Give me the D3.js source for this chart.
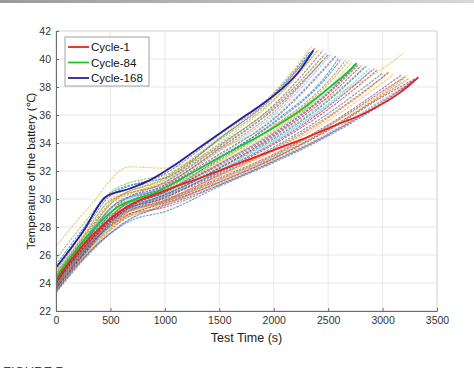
<!DOCTYPE html>
<html><head><meta charset="utf-8">
<script src="https://cdn.jsdelivr.net/npm/d3@7"></script>
<style>body{margin:0;background:#fff;}svg{display:block;font-family:"Liberation Sans",Arial,sans-serif;}</style>
</head><body>
<script>
// ---------- data ----------
const xTicks = [0,500,1000,1500,2000,2500,3000,3500];
const yTicks = [22,24,26,28,30,32,34,36,38,40,42];
const legendNames = ["Cycle-1","Cycle-84","Cycle-168"];
const legendColors = ["#e5231c","#1ec22a","#2b1d9e"];
const cycle1 = [[0,24.2],[250,26.7],[600,29.2],[1000,30.6],[1323,31.5],[1629,32.4],[1935,33.3],[2241,34.2],[2548,35.2],[2854,36.2],[3160,37.6],[3329,38.7]];
const cycle84 = [[0,24.4],[250,27.0],[560,29.4],[772,30.1],[925,30.5],[1000,30.8],[1323,32.2],[1629,33.5],[1935,34.8],[2241,36.3],[2486,37.8],[2670,39.0],[2762,39.7]];
const cycle168 = [[0,25.1],[250,27.7],[455,30.15],[680,30.75],[864,31.35],[1075,32.35],[1231,33.2],[1506,34.7],[1721,35.85],[1935,37.0],[2088,37.95],[2241,39.2],[2364,40.6]];
const otherCycles = [
 [[0,24.9],[250,27.6],[480,30.1],[1000,31.8],[1500,34.6],[2000,37.5],[2330,40.5]],
 [[0,24.4],[250,27.0],[520,29.8],[1000,31.5],[1500,34.3],[2000,37.3],[2380,40.8]],
 [[0,24.1],[250,26.7],[550,29.7],[1000,31.3],[1500,34.0],[2000,37.0],[2420,40.7]],
 [[0,23.8],[250,26.3],[560,29.5],[1000,31.2],[1500,33.8],[2000,36.7],[2450,40.6]],
 [[0,24.6],[250,27.2],[520,29.9],[1000,31.4],[1500,33.9],[2000,36.6],[2480,40.4]],
 [[0,24.0],[250,26.6],[560,29.4],[1000,31.0],[1500,33.4],[2000,36.0],[2520,40.3]],
 [[0,23.6],[250,26.1],[580,29.3],[1000,30.9],[1500,33.2],[2000,35.7],[2570,40.2]],
 [[0,24.3],[250,26.9],[540,29.6],[1000,30.8],[1500,33.0],[2000,35.4],[2500,38.8],[2620,40.0]],
 [[0,23.9],[250,26.4],[570,29.2],[1000,30.7],[1500,32.8],[2000,35.2],[2500,38.4],[2660,39.9]],
 [[0,24.2],[250,26.8],[560,29.4],[1000,30.6],[1500,32.6],[2000,34.9],[2500,37.9],[2720,39.8]],
 [[0,23.7],[250,26.2],[590,29.1],[1000,30.5],[1500,32.4],[2000,34.6],[2500,37.5],[2780,39.6]],
 [[0,24.5],[250,27.0],[540,29.5],[1000,30.4],[1500,32.3],[2000,34.4],[2500,37.1],[2830,39.4]],
 [[0,23.5],[250,25.9],[600,29.0],[1000,30.3],[1500,32.1],[2000,34.2],[2500,36.8],[2880,39.3]],
 [[0,24.0],[250,26.5],[600,29.0],[1000,30.2],[1500,31.9],[2000,33.9],[2500,36.4],[2950,39.2]],
 [[0,23.8],[250,26.2],[620,28.9],[1000,30.1],[1500,31.8],[2000,33.7],[2500,36.1],[3000,39.0]],
 [[0,24.3],[250,26.8],[600,29.2],[1000,30.0],[1500,31.7],[2000,33.6],[2500,35.9],[3050,39.0]],
 [[0,23.4],[250,25.8],[640,28.8],[1000,29.9],[1500,31.6],[2000,33.4],[2500,35.6],[3000,38.3],[3100,38.9]],
 [[0,24.1],[250,26.5],[620,29.0],[1000,29.9],[1500,31.5],[2000,33.2],[2500,35.3],[3000,37.9],[3180,38.9]],
 [[0,23.6],[250,26.0],[650,28.7],[1000,29.8],[1500,31.3],[2000,33.0],[2500,35.0],[3000,37.5],[3230,38.8]],
 [[0,23.3],[250,25.6],[680,28.6],[1000,29.6],[1500,31.1],[2000,32.8],[2500,34.7],[3000,37.1],[3280,38.4]],
 [[0,23.9],[250,26.3],[650,28.8],[1000,29.7],[1500,31.2],[2000,32.9],[2500,34.9],[3000,37.3],[3300,38.6]],
 [[0,23.5],[250,25.8],[700,28.5],[1000,29.1],[1500,30.9],[2000,32.6],[2500,34.5],[3000,36.8],[3250,38.1]],
 [[0,24.7],[250,27.3],[500,29.9],[1000,31.1],[1500,33.5],[2000,36.2],[2450,39.9]],
 [[0,26.6],[300,29.4],[680,32.3],[1000,32.2],[1500,33.6],[2000,35.3],[2500,37.2],[3000,39.3],[3190,40.4]],
 [[0,24.0],[250,26.4],[610,28.9],[1000,29.8],[1500,31.4],[2000,33.1],[2500,35.2],[3000,37.7],[3200,38.7]],
 [[0,25.7],[250,28.2],[520,30.6],[800,31.4],[1000,31.7],[1500,34.2],[2000,37.1],[2400,40.6]],
 [[0,23.4],[250,25.9],[620,28.9],[1000,30.4],[1500,32.5],[2000,34.8],[2500,37.7],[2750,39.5]],
 [[0,23.7],[250,26.1],[600,29.0],[900,30.0],[1000,30.3],[1500,32.2],[2000,34.5],[2500,37.3],[2800,39.5]],
 [[0,24.4],[250,26.9],[580,29.3],[1000,30.5],[1500,32.9],[2000,35.5],[2500,39.0],[2600,40.1]],
 [[0,23.6],[250,26.0],[660,28.9],[1000,29.4],[1500,31.0],[2000,32.7],[2500,34.6],[3000,37.0],[3270,38.3]],
 [[0,24.8],[250,27.4],[500,30.0],[1000,31.6],[1500,34.4],[2000,37.6],[2350,40.9]],
 [[0,24.2],[250,26.7],[540,29.6],[1000,31.0],[1500,33.6],[2000,36.4],[2500,40.3]],
 [[0,23.9],[250,26.4],[580,29.3],[1000,30.6],[1500,32.7],[2000,35.1],[2500,38.2],[2690,39.9]],
 [[0,24.5],[250,27.1],[550,29.6],[1000,30.9],[1500,33.1],[2000,35.8],[2550,40.1]],
 [[0,23.6],[250,26.0],[600,29.0],[1000,30.1],[1500,32.0],[2000,34.0],[2500,36.6],[2920,39.3]],
 [[0,24.1],[250,26.6],[590,29.1],[1000,30.3],[1500,32.2],[2000,34.3],[2500,37.0],[2850,39.5]],
 [[0,23.8],[250,26.3],[630,28.9],[1000,29.9],[1500,31.7],[2000,33.5],[2500,35.8],[3000,38.7],[3060,39.1]],
 [[0,24.2],[250,26.6],[640,29.0],[1000,29.8],[1500,31.4],[2000,33.1],[2500,35.2],[3000,37.6],[3210,38.8]],
 [[0,23.4],[250,25.7],[690,28.6],[1000,29.5],[1500,31.0],[2000,32.7],[2500,34.6],[3000,36.9],[3290,38.5]],
 [[0,24.6],[250,27.2],[530,29.8],[1000,31.2],[1500,33.7],[2000,36.5],[2460,40.3]],
 [[0,23.7],[250,26.2],[610,29.0],[1000,30.2],[1500,32.0],[2000,34.1],[2500,36.7],[2900,39.2]],
 [[0,24.0],[250,26.5],[600,29.1],[1000,30.5],[1500,32.5],[2000,34.7],[2500,37.6],[2760,39.6]],
 [[0,25.3],[250,27.9],[500,30.4],[800,31.2],[1000,31.5],[1500,34.3],[2000,37.4],[2370,40.7]],
 [[0,23.3],[250,25.7],[660,28.7],[900,29.3],[1000,29.6],[1500,31.2],[2000,32.9],[2500,35.0],[3000,37.4],[3240,38.6]]
];
const bgColors = ["#0072BD","#D95319","#EDB120","#7E2F8E","#77AC30","#4DBEEE","#A2142F"];

// ---------- chart ----------
const W=474,H=368;
const svg=d3.select("body").append("svg").attr("width",W).attr("height",H);
const grad=svg.append("defs").append("linearGradient").attr("id","tb");
grad.append("stop").attr("offset","0%").attr("stop-color","#9a9a9a");
grad.append("stop").attr("offset","100%").attr("stop-color","#d8d8d8");
svg.append("rect").attr("x",0).attr("y",0).attr("width",W).attr("height",3).attr("fill","url(#tb)");

const L=56,R=437,T=31,B=311;
const x=d3.scaleLinear().domain([0,3500]).range([L,R]);
const y=d3.scaleLinear().domain([22,42]).range([B,T]);

// grid
const g=svg.append("g");
g.selectAll(".gx").data(xTicks).join("line").attr("x1",d=>x(d)).attr("x2",d=>x(d)).attr("y1",T).attr("y2",B).attr("stroke","#e3e3e3").attr("stroke-width",0.8);
g.selectAll(".gy").data(yTicks).join("line").attr("x1",L).attr("x2",R).attr("y1",d=>y(d)).attr("y2",d=>y(d)).attr("stroke","#e3e3e3").attr("stroke-width",0.8);
svg.append("rect").attr("x",L).attr("y",T).attr("width",R-L).attr("height",B-T).attr("fill","none").attr("stroke","#d6d6d6").attr("stroke-width",0.8);

svg.append("clipPath").attr("id","clip").append("rect").attr("x",L).attr("y",T).attr("width",R-L).attr("height",B-T);
const line=d3.line().x(d=>x(d[0])).y(d=>y(d[1])).curve(d3.curveMonotoneX);
const plot=svg.append("g").attr("clip-path","url(#clip)");
plot.selectAll(".bg").data(otherCycles).join("path")
  .attr("d",line).attr("fill","none")
  .attr("stroke",(d,i)=>bgColors[i%bgColors.length])
  .attr("stroke-width",1.2).attr("stroke-dasharray","2.5,1").attr("opacity",0.6);
const mains=[cycle1,cycle84,cycle168];
plot.selectAll(".main").data(mains).join("path")
  .attr("d",line).attr("fill","none")
  .attr("stroke",(d,i)=>legendColors[i]).attr("stroke-width",1.8);

// axes
const fmt=d3.format("d");
const xa=svg.append("g").attr("transform",`translate(0,${B})`)
  .call(d3.axisBottom(x).tickValues(xTicks).tickFormat(fmt).tickSizeInner(-3).tickSizeOuter(0).tickPadding(6));
const ya=svg.append("g").attr("transform",`translate(${L},0)`)
  .call(d3.axisLeft(y).tickValues(yTicks).tickFormat(fmt).tickSizeInner(-3).tickSizeOuter(0).tickPadding(5));
[xa,ya].forEach(a=>{
  a.select(".domain").attr("stroke","#6b6b6b").attr("stroke-width",1);
  a.selectAll(".tick line").attr("stroke","#6b6b6b");
  a.selectAll("text").attr("fill","#333").attr("font-size","10.5px").attr("font-family","Liberation Sans, Arial, sans-serif");
});

svg.append("text").attr("x",(L+R)/2).attr("y",342).attr("text-anchor","middle")
  .attr("font-size","12.5px").attr("fill","#222").text("Test Time (s)");
svg.append("text").attr("transform",`translate(35,${(T+B)/2}) rotate(-90)`).attr("text-anchor","middle")
  .attr("font-size","11.5px").attr("fill","#222").text("Temperature of the battery (℃)");

// legend
const lg=svg.append("g");
lg.append("rect").attr("x",65).attr("y",37).attr("width",84).attr("height",49).attr("fill","#fff").attr("stroke","#8a8a8a").attr("stroke-width",0.8);
const li=lg.selectAll(".li").data(legendNames).join("g").attr("transform",(d,i)=>`translate(0,${47+i*15.5})`);
li.append("line").attr("x1",68).attr("x2",89).attr("y1",0).attr("y2",0).attr("stroke",(d,i)=>legendColors[i]).attr("stroke-width",1.8);
li.append("text").attr("x",91).attr("y",4).attr("font-size","11.5px").attr("fill","#111").text(d=>d);

// caption fragment (cut off at the bottom edge, as in the reference)
svg.append("text").attr("x",3).attr("y",376).attr("font-size","13px").attr("fill","#444").text("FIGURE 7");
</script>
</body></html>
